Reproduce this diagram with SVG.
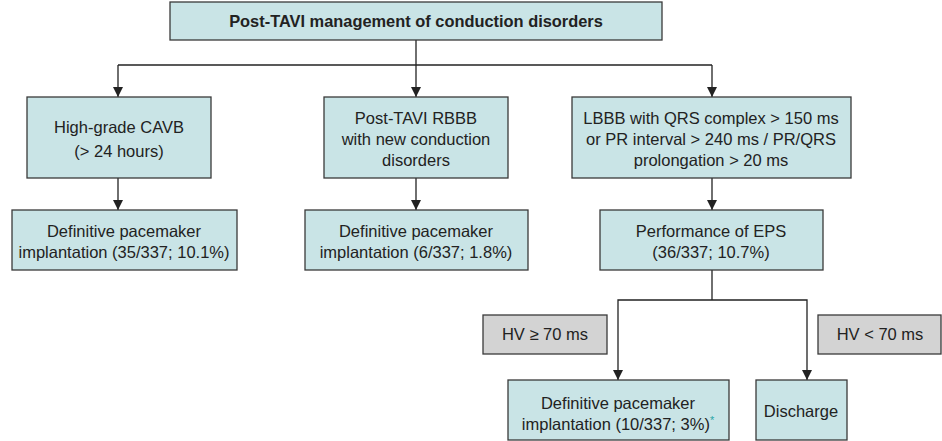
<svg xmlns="http://www.w3.org/2000/svg" width="942" height="441" viewBox="0 0 942 441">
<style>
.box{fill:#c9e4e6;stroke:#3a3a3a;stroke-width:1.3}
.gbox{fill:#d3d3d3;stroke:#3a3a3a;stroke-width:1.3}
text{font-family:"Liberation Sans",Arial,sans-serif;font-size:16.5px;fill:#222;text-anchor:middle}
.t{font-weight:bold;font-size:16.4px}
.c{fill:none;stroke:#222;stroke-width:1.3}
</style>
<defs>
<marker id="ah" markerWidth="10" markerHeight="10" refX="10" refY="5" orient="auto-start-reverse" markerUnits="userSpaceOnUse" viewBox="0 0 10 10">
<path d="M0,0 L10,5 L0,10 Z" fill="#222"/>
</marker>
</defs>
<rect width="942" height="441" fill="#fff"/>
<g id="connectors">
<path class="c" d="M416,40 V65"/>
<path class="c" d="M118,65 H712"/>
<path class="c" d="M118,65 V97" marker-end="url(#ah)"/>
<path class="c" d="M416,65 V97" marker-end="url(#ah)"/>
<path class="c" d="M712,65 V97" marker-end="url(#ah)"/>
<path class="c" d="M118,178 V210" marker-end="url(#ah)"/>
<path class="c" d="M416,178 V210" marker-end="url(#ah)"/>
<path class="c" d="M712,178 V210" marker-end="url(#ah)"/>
<path class="c" d="M712,270 V300"/>
<path class="c" d="M618,380 V300 H807 V380" marker-start="url(#ah)" marker-end="url(#ah)"/>
</g>
<g id="n-title">
<rect class="box" x="170" y="2" width="492" height="38"/>
<text class="t" x="416" y="27">Post-TAVI management of conduction disorders</text>
</g>
<g id="n-cavb">
<rect class="box" x="27" y="97" width="184" height="81"/>
<text x="119" y="133">High-grade CAVB</text>
<text x="119" y="157">(&gt; 24 hours)</text>
</g>
<g id="n-rbbb">
<rect class="box" x="324" y="97" width="184" height="81"/>
<text x="416" y="124">Post-TAVI RBBB</text>
<text x="416" y="145">with new conduction</text>
<text x="416" y="166">disorders</text>
</g>
<g id="n-lbbb">
<rect class="box" x="572" y="97" width="279" height="81"/>
<text x="711" y="124">LBBB with QRS complex &gt; 150 ms</text>
<text x="711" y="145">or PR interval &gt; 240 ms / PR/QRS</text>
<text x="711" y="166">prolongation &gt; 20 ms</text>
</g>
<g id="n-dpi1">
<rect class="box" x="12" y="210" width="225" height="60"/>
<text x="124" y="237">Definitive pacemaker</text>
<text x="124" y="258">implantation (35/337; 10.1%)</text>
</g>
<g id="n-dpi2">
<rect class="box" x="305" y="210" width="223" height="60"/>
<text x="416" y="237">Definitive pacemaker</text>
<text x="416" y="258">implantation (6/337; 1.8%)</text>
</g>
<g id="n-eps">
<rect class="box" x="600" y="210" width="223" height="60"/>
<text x="711" y="237">Performance of EPS</text>
<text x="711" y="258">(36/337; 10.7%)</text>
</g>
<g id="n-hvge">
<rect class="gbox" x="483" y="315" width="124" height="39"/>
<text x="545" y="340">HV ≥ 70 ms</text>
</g>
<g id="n-hvlt">
<rect class="gbox" x="818" y="315" width="123" height="39"/>
<text x="880" y="340">HV &lt; 70 ms</text>
</g>
<g id="n-dpi3">
<rect class="box" x="508" y="380" width="221" height="60"/>
<text x="618" y="409">Definitive pacemaker</text>
<text x="618" y="430">implantation (10/337; 3%)<tspan fill="#2aa6a6" font-size="11" dy="-6">*</tspan></text>
</g>
<g id="n-discharge">
<rect class="box" x="756" y="380" width="91" height="60"/>
<text x="801" y="417">Discharge</text>
</g>
</svg>
